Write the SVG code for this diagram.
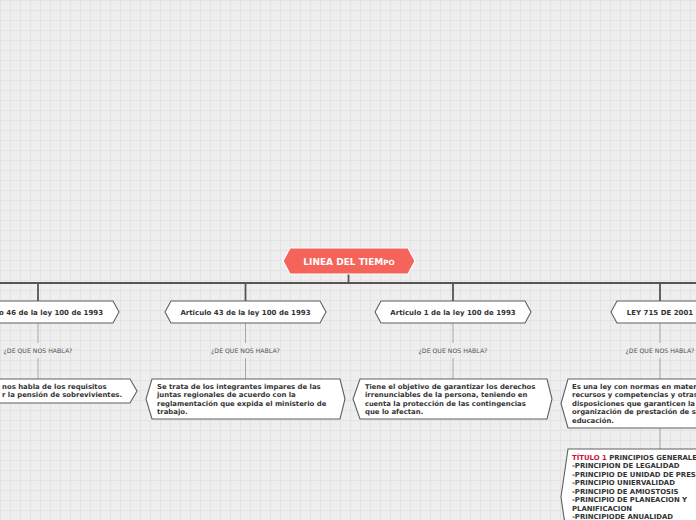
<svg xmlns="http://www.w3.org/2000/svg" width="696" height="520" viewBox="0 0 696 520">
<defs>
<pattern id="grid" width="10" height="10" patternUnits="userSpaceOnUse">
<rect width="10" height="10" fill="#eeeeee"/>
<path d="M0.5 0V10M0 0.5H10" stroke="#e3e3e3" stroke-width="1" fill="none"/>
</pattern>
<style>
.main{fill:#f4645a;stroke:#ffffff;stroke-width:1.2}
.n1{fill:#ffffff;stroke:#606060;stroke-width:1.1}
.n2{fill:#ffffff;stroke:#606060;stroke-width:1.1}
.t0{font-family:"DejaVu Sans",Verdana,sans-serif;font-weight:bold;font-size:9px;fill:#ffffff}
.t1{font-family:"DejaVu Sans",Verdana,sans-serif;font-weight:bold;font-size:7px;fill:#333333}
.t2{font-family:"DejaVu Sans",Verdana,sans-serif;font-weight:bold;font-size:6.9px;fill:#333333}
.lab{font-family:"DejaVu Sans",Verdana,sans-serif;font-size:6.2px;fill:#555555}
.red{fill:#c8143c}
.sm{font-size:6.6px}
.main-line{stroke:#555555;stroke-width:1.8;fill:none}
.sub-line{stroke:#a8a8a8;stroke-width:1;fill:none}
</style>
</defs>
<rect width="696" height="520" fill="url(#grid)"/>

<g id="connectors">
<path class="main-line" d="M348.5 274V283M0 283H696M38 283V301M245.5 283V301M453 283V301M660 283V301"/>
<path class="sub-line" d="M38 323V343M38 358V379M245.5 323V343M245.5 358V379M453 323V343M453 358V379M660 323V343M660 358V379M660 428V449"/>
</g>

<g id="root">
<polygon class="main" points="283,261 290,248 408,248 415,261 408,274 290,274"/>
<text class="t0" x="349" y="264.5" text-anchor="middle">LINEA DEL TIEM<tspan font-size="7.2">PO</tspan></text>
</g>

<g id="art46">
<polygon class="n1" points="-43,312 -37,301 113,301 119,312 113,323 -37,323"/>
<text class="t1" x="38" y="314.5" text-anchor="middle">Articulo 46 de la ley 100 de 1993</text>
</g>
<g id="art43">
<polygon class="n1" points="165,312 171,301 320,301 326,312 320,323 171,323"/>
<text class="t1" x="245.5" y="314.5" text-anchor="middle">Articulo 43 de la ley 100 de 1993</text>
</g>
<g id="art1">
<polygon class="n1" points="375,312 381,301 525,301 531,312 525,323 381,323"/>
<text class="t1" x="453" y="314.5" text-anchor="middle">Articulo 1 de la ley 100 de 1993</text>
</g>
<g id="ley715">
<polygon class="n1" points="611,312 617,301 703,301 709,312 703,323 617,323"/>
<text class="t1" x="660" y="314.5" text-anchor="middle">LEY 715 DE 2001</text>
</g>

<g id="labels">
<text class="lab" x="38" y="353" text-anchor="middle">¿DE QUE NOS HABLA?</text>
<text class="lab" x="245.5" y="353" text-anchor="middle">¿DE QUE NOS HABLA?</text>
<text class="lab" x="453" y="353" text-anchor="middle">¿DE QUE NOS HABLA?</text>
<text class="lab" x="660" y="353" text-anchor="middle">¿DE QUE NOS HABLA?</text>
</g>

<g id="desc46">
<polygon class="n2" points="-60,379 130,379 137,391 130,403 -60,403"/>
<text class="t2" x="2" y="388.5">nos habla de los requisitos</text>
<text class="t2" x="2" y="397">r la pensión de sobrevivientes.</text>
</g>
<g id="desc43">
<polygon class="n2" points="152,379 340,379 345,399 340,419 152,419 146,399"/>
<text class="t2" x="157" y="388.5">Se trata de los integrantes impares de las</text>
<text class="t2" x="157" y="397">juntas regionales de acuerdo con la</text>
<text class="t2" x="157" y="405.5">reglamentación que expida el ministerio de</text>
<text class="t2" x="157" y="414">trabajo.</text>
</g>
<g id="desc1">
<polygon class="n2" points="360,379 547,379 552,399 547,419 360,419 353,399"/>
<text class="t2" x="365" y="388.5"><tspan class="sm">Tie</tspan>ne el objetivo de garantizar los derechos</text>
<text class="t2" x="365" y="397">irrenunciables de la persona, teniendo en</text>
<text class="t2" x="365" y="405.5"><tspan class="sm">cue</tspan>nta la protección de las contingencias</text>
<text class="t2" x="365" y="414">que lo afectan.</text>
</g>
<g id="desc715">
<polygon class="n2" points="568,379 760,379 760,428 568,428 561,403.5"/>
<text class="t2" x="572" y="388.5">Es una ley con normas en materia</text>
<text class="t2" x="572" y="397">recursos y competencias y otras</text>
<text class="t2" x="572" y="405.5">disposiciones que garanticen la</text>
<text class="t2" x="572" y="414">organización de prestación de servicios</text>
<text class="t2" x="572" y="422.5">educación.</text>
</g>
<g id="titulo1">
<polygon class="n2" points="568,449 760,449 760,545 568,545 561,497"/>
<text class="t2" x="572" y="459.5"><tspan class="red">TÍTULO 1</tspan> PRINCIPIOS GENERALES</text>
<text class="t2" x="572" y="468">-PRINCIPION DE LEGALIDAD</text>
<text class="t2" x="572" y="476.5">-PRINCIPIO DE UNIDAD DE PRESUPUESTO</text>
<text class="t2" x="572" y="485">-PRINCIPIO UNIERVALIDAD</text>
<text class="t2" x="572" y="493.5">-PRINCIPIO DE AMIOSTOSIS</text>
<text class="t2" x="572" y="502">-PRINCIPIO DE PLANEACION Y</text>
<text class="t2" x="572" y="510.5">PLANIFICACION</text>
<text class="t2" x="572" y="519">-PRINCIPIODE ANUALIDAD</text>
</g>
</svg>
